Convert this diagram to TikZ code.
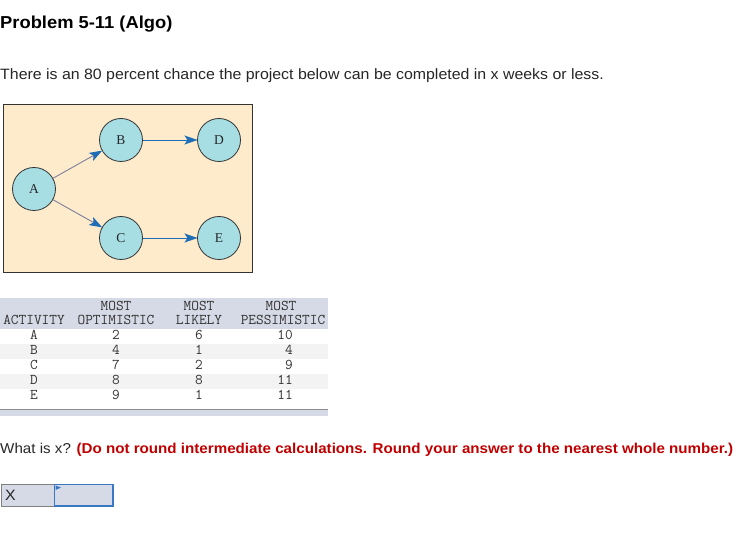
\documentclass[tikz,border=0pt]{standalone}
\usepackage{fontspec}
\setmainfont{Liberation Sans}[FakeStretch=1.06]
\newfontfamily\nodefont{Liberation Serif}
\usepackage{tikz}
\usepackage{tkz-graph}
\usetikzlibrary{arrows.meta}

\definecolor{paneltan}{HTML}{FDEBCC}
\definecolor{nodecyan}{HTML}{A7DEE4}
\definecolor{edgegray}{HTML}{7E7F9A}
\definecolor{arrowblue}{HTML}{1F6DB5}
\definecolor{headblue}{HTML}{D6DAE6}
\definecolor{rowgray}{HTML}{F3F3F3}
\definecolor{askred}{HTML}{C00000}
\definecolor{boxblue}{HTML}{3A78C6}

\tikzset{
  cell/.style={font=\ttfamily\fontsize{14.9}{15}\selectfont,text=black!80,inner sep=0pt,text height=7.5pt,text depth=0pt},
  prose/.style={anchor=base west,inner sep=0pt,text=black!85,font=\fontsize{15}{17}\selectfont},
}

\begin{document}
\begin{tikzpicture}[x=1pt,y=-1pt]
            \useasboundingbox (0,0) rectangle (739,545);
            \node[prose,text=black,font=\bfseries\fontsize{17.3}{20}\selectfont] (title) at (0,29) {Problem 5-11 (Algo)};
            \node[prose] (intro) at (0,80) {There is an 80 percent chance the project below can be completed in x weeks or less.};

            % network panel
            \filldraw[fill=paneltan,draw=black!80,line width=0.9pt] (3,104) rectangle (252,272);
            \GraphInit[vstyle=Normal];
            \SetVertexNormal[Shape=circle,MinSize=43pt,FillColor=nodecyan,LineWidth=0.8pt]
            \tikzset{VertexStyle/.append style={draw=black!80,inner sep=0pt,text=black!85,font=\nodefont\fontsize{13.5}{13.5}\selectfont}};
            \Vertex[x=34,y=189]{A};
            \Vertex[x=121,y=140]{B};
            \Vertex[x=121,y=238]{C};
            \Vertex[x=219,y=140]{D};
            \Vertex[x=219,y=238]{E};

            \tikzset{EdgeStyle/.style={draw=edgegray,line width=0.9pt,-{Stealth[length=13pt,width=9pt,inset=3pt,color=arrowblue]}}};
            \Edge(A)(B);
            \Edge(A)(C);

            \tikzset{EdgeStyle/.append style={draw=arrowblue}};
            \Edge(B)(D);
            \Edge(C)(E);

            % table
            \fill[headblue] (0,298) rectangle (328,329);
            \fill[rowgray] (0,344) rectangle (328,359);
            \fill[rowgray] (0,374) rectangle (328,389);
            \fill[headblue] (0,409) rectangle (328,416);
            \draw[black!45,line width=0.8pt] (0,409) -- (328,409);
            \node[cell] (most1) at (116,307) {MOST};
            \node[cell] (most2) at (199,307) {MOST};
            \node[cell] (most3) at (281,307) {MOST};
            \node[cell] (hact) at (34,321) {ACTIVITY};
            \node[cell] (hopt) at (116,321) {OPTIMISTIC};
            \node[cell] (hlik) at (199,321) {LIKELY};
            \node[cell] (hpes) at (283,321) {PESSIMISTIC};
            \foreach \act/\opt/\lik/\pes [count=\r] in {A/2/6/10,B/4/1/4,C/7/2/9,D/8/8/11,E/9/1/11}{
              \pgfmathsetmacro\yy{321+15*\r}
              \node[cell] (act\r) at (34,\yy) {\act};
              \node[cell] (opt\r) at (116,\yy) {\opt};
              \node[cell] (lik\r) at (199,\yy) {\lik};
              \node[cell,anchor=east] (pes\r) at (293,\yy) {\pes};
            }

            % question and answer box
            \node[prose,font=\fontsize{14.3}{17}\selectfont] (ask) at (0,453) {What is x? \textcolor{askred}{\bfseries(Do not round intermediate calculations. Round your answer to the nearest whole number.)}};
            \filldraw[fill=headblue,draw=black!50,line width=0.8pt] (1.5,484) rectangle (54,506);
            \filldraw[fill=headblue,draw=boxblue,line width=1.2pt] (54.5,484.5) rectangle (113,506);
            \fill[boxblue] (55.5,485.5) -- (61,487.5) -- (55.5,490) -- cycle;
            \node[prose] (xlab) at (5,500) {X};
          \end{tikzpicture}
\end{document}
